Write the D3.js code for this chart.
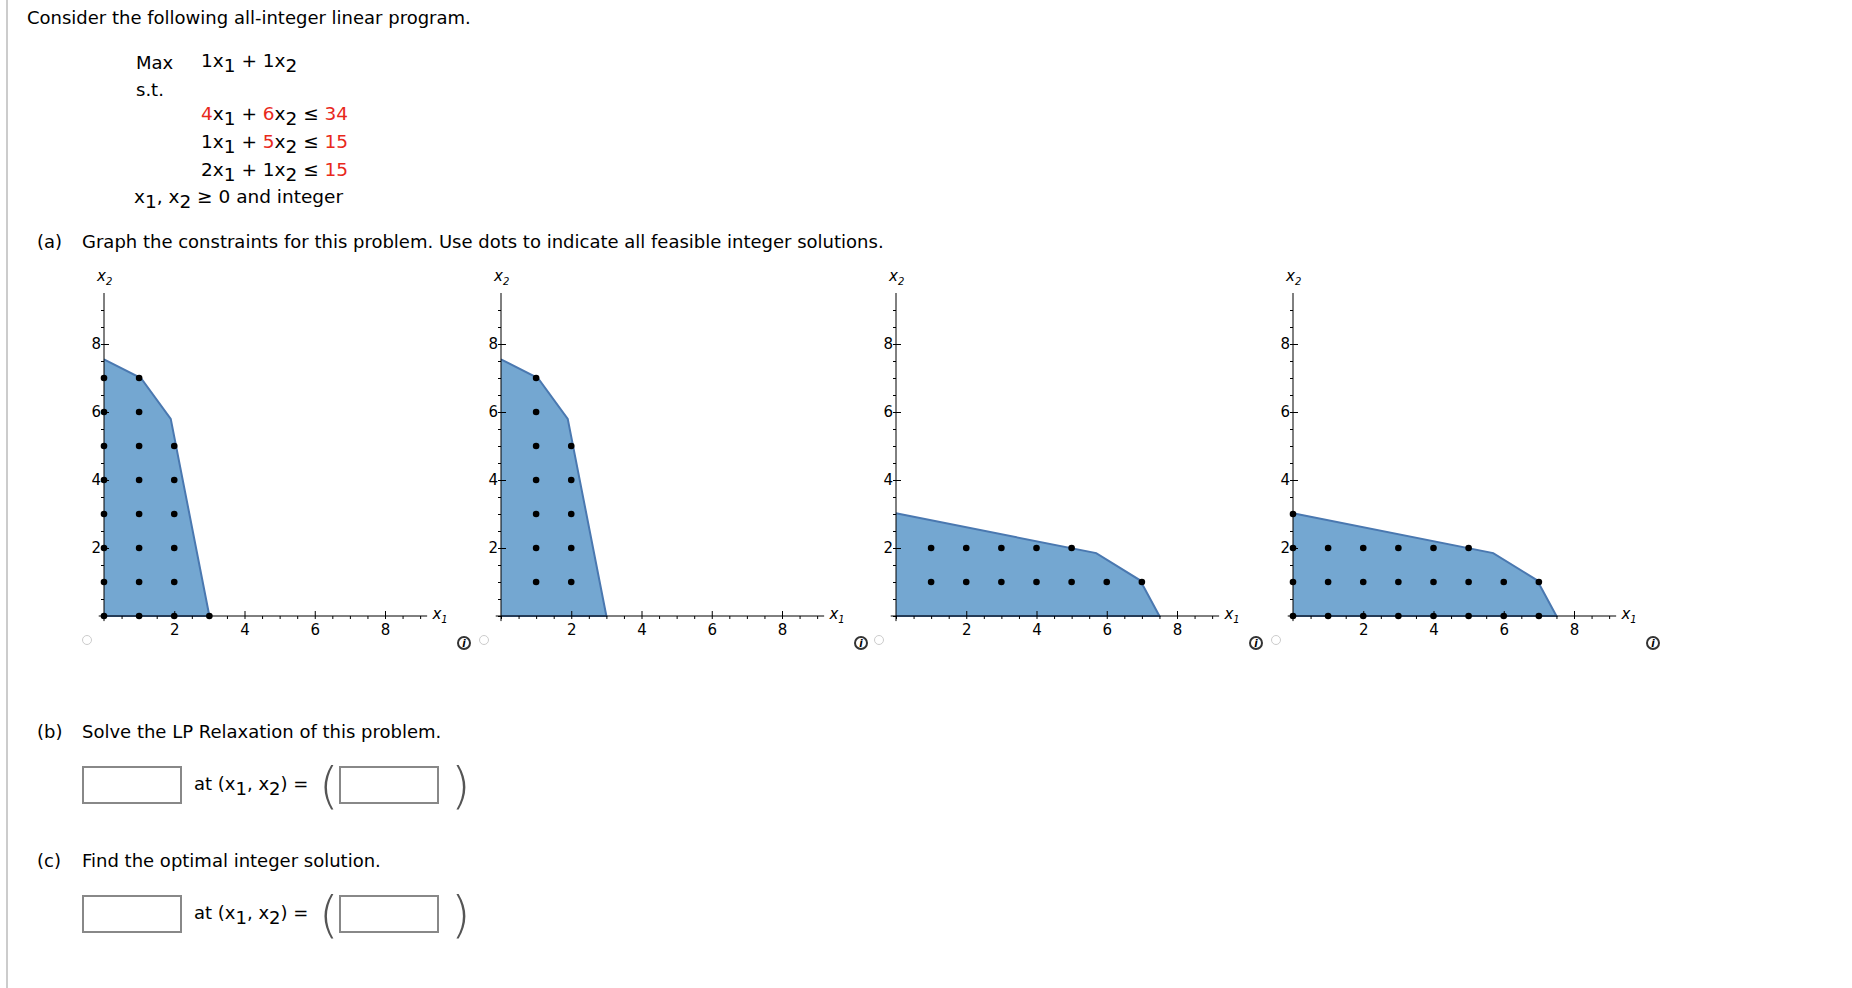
<!DOCTYPE html>
<html><head><meta charset="utf-8">
<script src="https://cdn.jsdelivr.net/npm/d3@7"></script>
<style>
body{margin:0;background:#fff;font-family:Verdana,"DejaVu Sans",sans-serif;}
svg text{font-family:"DejaVu Sans",Verdana,sans-serif;}
</style></head>
<body><svg id="c" width="1852" height="988"></svg>
<script>
// chart origins (x pixel of axis origin) for the four graphs
const chartOrigins = [104, 501, 896, 1293]
const xTicks = [2, 4, 6, 8]
const yTicks = [2, 4, 6, 8]

const polygons = [
  [[0,7.55],[1.05,7.0],[1.9,5.8],[3,0],[0,0]],
  [[0,7.55],[1.05,7.0],[1.9,5.8],[3,0],[0,0]],
  [[0,3.02],[5.7,1.85],[6.95,1.05],[7.5,0],[0,0]],
  [[0,3.02],[5.7,1.85],[6.95,1.05],[7.5,0],[0,0]]
]
const dots = [
  [[0,0],[0,1],[0,2],[0,3],[0,4],[0,5],[0,6],[0,7],[1,0],[1,1],[1,2],[1,3],[1,4],[1,5],[1,6],[1,7],[2,0],[2,1],[2,2],[2,3],[2,4],[2,5],[3,0]],
  [[1,1],[1,2],[1,3],[1,4],[1,5],[1,6],[1,7],[2,1],[2,2],[2,3],[2,4],[2,5]],
  [[1,2],[2,2],[3,2],[4,2],[5,2],[1,1],[2,1],[3,1],[4,1],[5,1],[6,1],[7,1]],
  [[0,3],[0,2],[1,2],[2,2],[3,2],[4,2],[5,2],[0,1],[1,1],[2,1],[3,1],[4,1],[5,1],[6,1],[7,1],[0,0],[1,0],[2,0],[3,0],[4,0],[5,0],[6,0],[7,0]]
]

const svg = d3.select("#c")
svg.append("line").attr("x1",7).attr("x2",7).attr("y1",0).attr("y2",988).attr("stroke","#ccc").attr("stroke-width",2)

const txt = (x, y, s, opts={}) => svg.append("text").attr("x",x).attr("y",y)
  .attr("font-size",opts.size||18).attr("fill",opts.fill||"#000").text(s)

txt(27, 24, "Consider the following all-integer linear program.")
txt(136, 69, "Max")
txt(136, 96, "s.t.")

// math lines built with tspans: [text, colour, subscript?]
function mathLine(x, y, parts) {
  const t = svg.append("text").attr("x",x).attr("y",y).attr("font-size",18.5)
  for (const [s, col, sub] of parts) {
    t.append("tspan").attr("fill",col||"#000").attr("dy", sub===1 ? 5 : sub===-1 ? -5 : 0).text(s)
  }
}
const R = "#e8291c"
mathLine(201, 67, [["1x",""],["1","",1],[" + 1x","",-1],["2","",1]])
mathLine(201, 120, [["4",R],["x",""],["1","",1],[" + ","",-1],["6",R],["x",""],["2","",1],[" ≤ ","",-1],["34",R]])
mathLine(201, 148, [["1x",""],["1","",1],[" + ","",-1],["5",R],["x",""],["2","",1],[" ≤ ","",-1],["15",R]])
mathLine(201, 176, [["2x",""],["1","",1],[" + 1x","",-1],["2","",1],[" ≤ ","",-1],["15",R]])
mathLine(134, 203, [["x",""],["1","",1],[", x","",-1],["2","",1],[" ≥ 0 and integer","",-1]])

txt(37, 248, "(a)")
txt(82, 248, "Graph the constraints for this problem. Use dots to indicate all feasible integer solutions.")

// graphs
const y = d3.scaleLinear().domain([0, 8]).range([616, 344])
chartOrigins.forEach((ox, i) => {
  const x = d3.scaleLinear().domain([0, 8]).range([ox, ox + 281])
  const g = svg.append("g")
  g.append("path").datum(polygons[i])
    .attr("d", d3.line().x(d => x(d[0])).y(d => y(d[1])))
    .attr("fill", "#74a7d1").attr("stroke", "#4a78b0").attr("stroke-width", 2)
  g.append("g").attr("transform", `translate(0,${y(0)})`)
    .call(d3.axisBottom(x).tickValues(d3.range(0, 9.2, 0.5)).tickSize(3).tickFormat(""))
    .call(a => a.select(".domain").attr("d", `M${x(-0.15)},0H${x(9.2)}`))
  g.append("g").attr("transform", `translate(0,${y(0)})`)
    .call(d3.axisBottom(x).tickValues(xTicks).tickSize(5).tickFormat(d3.format("d")))
    .call(a => { a.select(".domain").remove(); a.selectAll("line").attr("transform","translate(0,-5)").attr("y2",5)
      a.selectAll("text").attr("font-size",15).attr("font-family","DejaVu Serif").attr("dy","0.75em") })
  g.append("g").attr("transform", `translate(${ox},0)`)
    .call(d3.axisLeft(y).tickValues(d3.range(0, 9.5, 0.5)).tickSize(3).tickFormat(""))
    .call(a => a.select(".domain").attr("d", `M0,${y(-0.15)}V${y(9.5)}`))
  g.append("g").attr("transform", `translate(${ox},0)`)
    .call(d3.axisLeft(y).tickValues(yTicks).tickSize(5).tickFormat(d3.format("d")))
    .call(a => { a.select(".domain").remove(); a.selectAll("line").attr("x2",5).attr("x1",-3)
      a.selectAll("text").attr("font-size",15).attr("font-family","DejaVu Serif").attr("x",-3) })
  g.selectAll("circle.d").data(dots[i]).join("circle")
    .attr("cx", d => x(d[0])).attr("cy", d => y(d[1])).attr("r", 3.3).attr("fill", "#000")
  g.append("text").attr("x", x(9.35)).attr("y", y(-0.1)).attr("font-family","DejaVu Serif").attr("font-style","italic")
    .attr("font-size",15).text("x").append("tspan").attr("font-size",10).attr("dy",4).text("1")
  g.append("text").attr("x", ox - 7).attr("y", 281).attr("font-family","DejaVu Serif").attr("font-style","italic")
    .attr("font-size",15).text("x").append("tspan").attr("font-size",10).attr("dy",4).text("2")
  // radio button and info icon
  g.append("circle").attr("cx", ox - 17).attr("cy", 640).attr("r", 4.5).attr("fill","none").attr("stroke","#ccc")
  const ix = ox + 360
  g.append("circle").attr("cx", ix).attr("cy", 643).attr("r", 6).attr("fill","none").attr("stroke","#333").attr("stroke-width",2)
  g.append("text").attr("x", ix).attr("y", 647).attr("text-anchor","middle").attr("font-size",10)
    .attr("font-style","italic").attr("font-weight","bold").text("i")
})

// parts b and c
function answerRow(label, title, ty) {
  txt(37, ty, label)
  txt(82, ty, title)
  const ry = ty + 29
  svg.append("rect").attr("x",83).attr("y",ry).attr("width",98).attr("height",36).attr("fill","#fff").attr("stroke","#888").attr("stroke-width",2)
  const t = svg.append("text").attr("x",194).attr("y",ry+23).attr("font-size",18)
  t.append("tspan").text("at (x")
  t.append("tspan").attr("dy",5).text("1")
  t.append("tspan").attr("dy",-5).text(", x")
  t.append("tspan").attr("dy",5).text("2")
  t.append("tspan").attr("dy",-5).text(") =")
  svg.append("text").attr("x",319).attr("y",ry+36).attr("font-size",50).attr("font-weight",100).attr("fill","#555").text("(")
  svg.append("rect").attr("x",340).attr("y",ry).attr("width",98).attr("height",36).attr("fill","#fff").attr("stroke","#888").attr("stroke-width",2)
  svg.append("text").attr("x",451).attr("y",ry+36).attr("font-size",50).attr("font-weight",100).attr("fill","#555").text(")")
}
answerRow("(b)", "Solve the LP Relaxation of this problem.", 738)
answerRow("(c)", "Find the optimal integer solution.", 867)
</script></body></html>
